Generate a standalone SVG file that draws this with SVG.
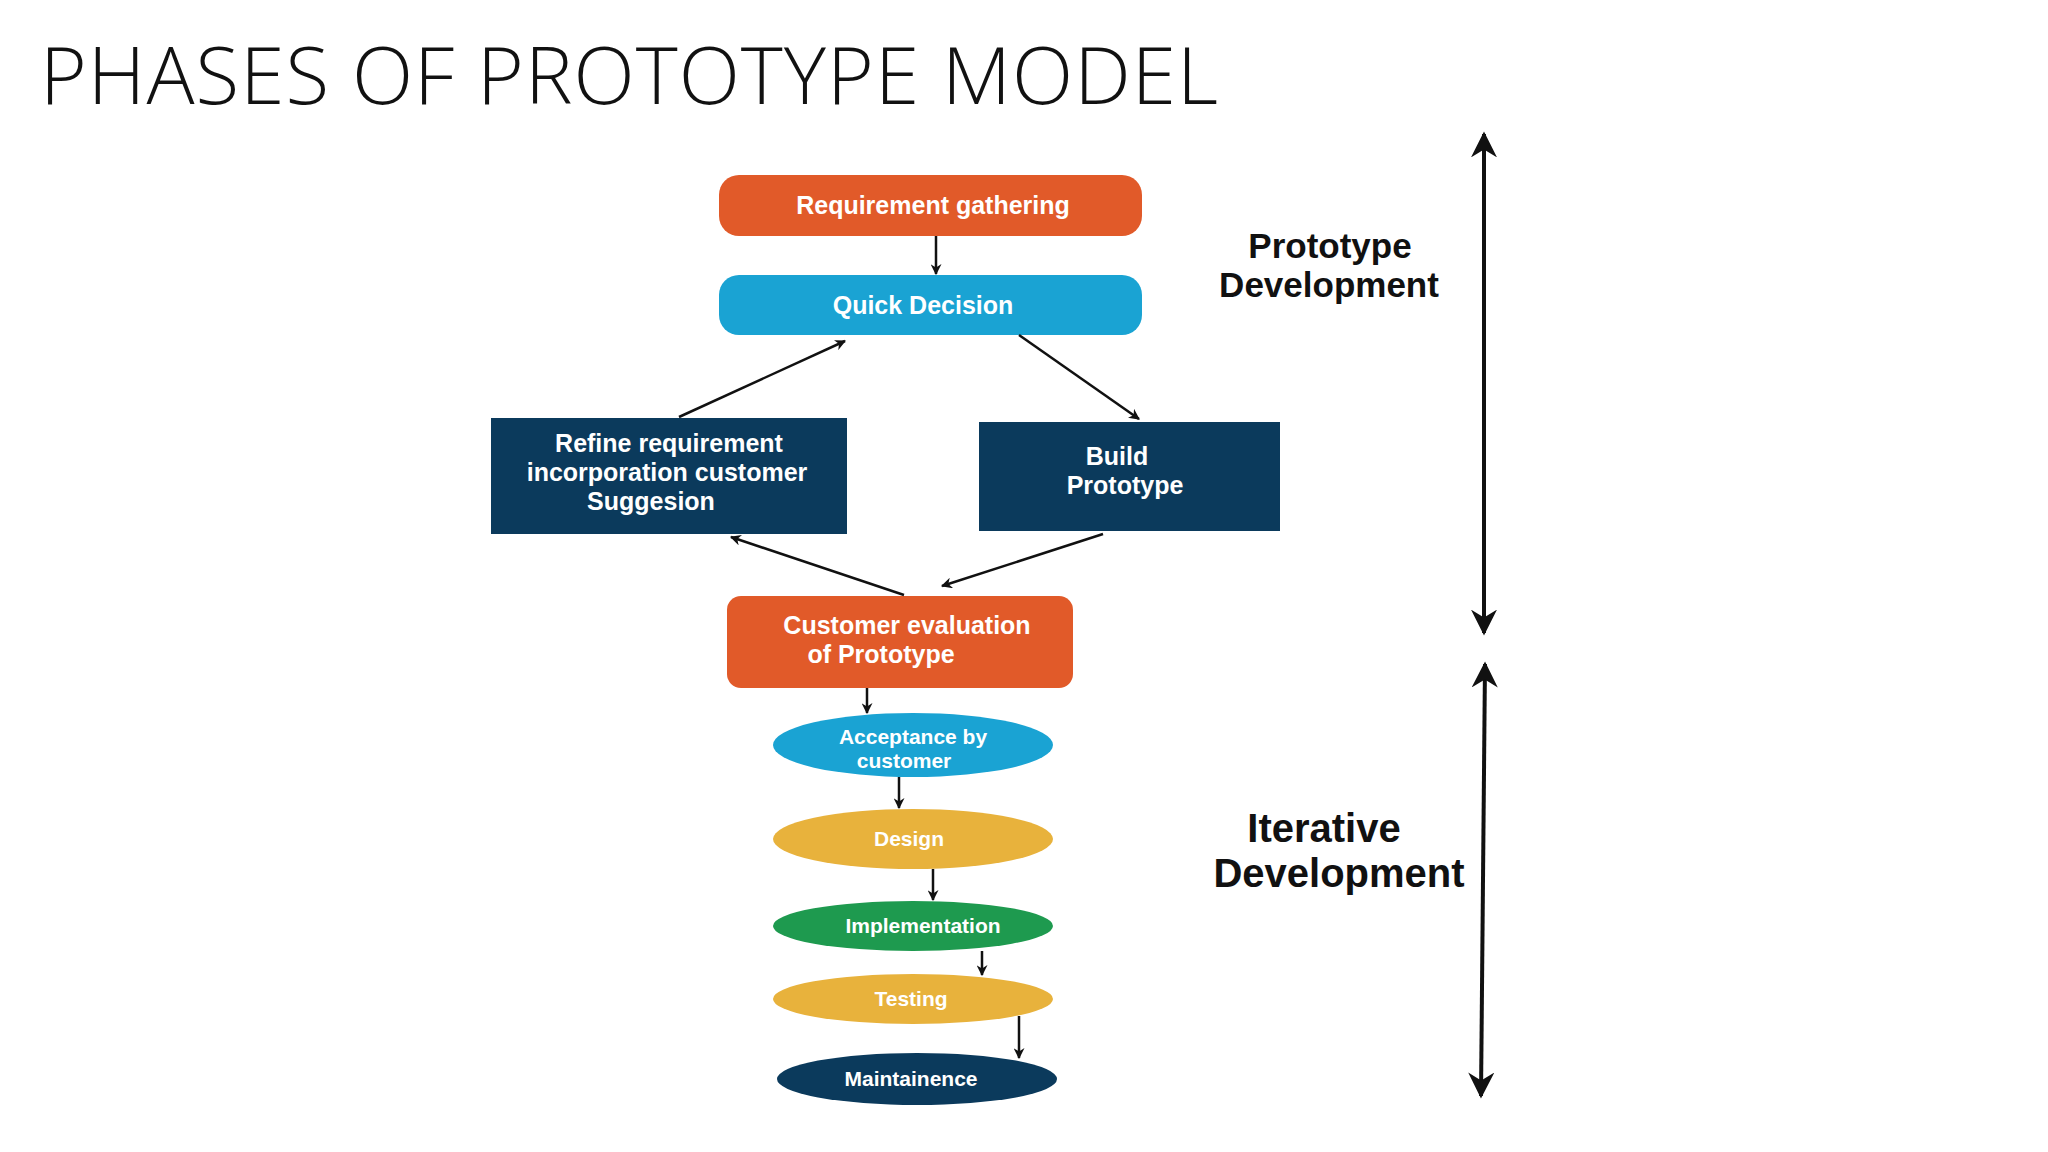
<svg xmlns="http://www.w3.org/2000/svg" width="2048" height="1152" viewBox="0 0 2048 1152">
<defs>
<marker id="ah" viewBox="0 0 10 10" refX="9" refY="5" markerWidth="11" markerHeight="11" orient="auto-start-reverse" markerUnits="userSpaceOnUse"><path d="M0,0 L10,5 L0,10 L3,5 z" fill="#111"/></marker>
<marker id="big" viewBox="0 0 10 10" refX="9" refY="5" markerWidth="26" markerHeight="26" orient="auto-start-reverse" markerUnits="userSpaceOnUse"><path d="M0,0 L10,5 L0,10 L3,5 z" fill="#111"/></marker>
<style>
.t{font-family:"Liberation Sans",Arial,sans-serif;font-weight:bold;fill:#fff;text-anchor:middle;font-size:25px}
.s{font-size:21px}
.lab{font-family:"Liberation Sans",Arial,sans-serif;font-weight:bold;fill:#111;text-anchor:middle}
.c{stroke:#111;stroke-width:2.5;fill:none;marker-end:url(#ah)}
.b{stroke:#111;stroke-width:4;fill:none;marker-end:url(#big);marker-start:url(#big)}
</style>
</defs>
<rect width="2048" height="1152" fill="#fff"/>
<text x="40" y="104" font-family="'Open Sans',sans-serif" font-weight="300" font-size="80" textLength="1178" fill="#111">PHASES OF PROTOTYPE MODEL</text>
<g transform="translate(-9,-3)">
<g id="n1"><rect x="728" y="178" width="423" height="61" rx="20" fill="#E15A29"/><text class="t" x="942" y="217">Requirement gathering</text></g>
<g id="n2"><rect x="728" y="278" width="423" height="60" rx="20" fill="#1AA3D3"/><text class="t" x="932" y="317">Quick Decision</text></g>
<g id="n3"><rect x="500" y="421" width="356" height="116" fill="#0B3A5C"/><text class="t" x="678" y="455">Refine requirement</text><text class="t" x="676" y="484">incorporation customer</text><text class="t" x="660" y="513">Suggesion</text></g>
<g id="n4"><rect x="988" y="425" width="301" height="109" fill="#0B3A5C"/><text class="t" x="1126" y="468">Build</text><text class="t" x="1134" y="497">Prototype</text></g>
<g id="n5"><rect x="736" y="599" width="346" height="92" rx="14" fill="#E15A29"/><text class="t" x="916" y="637">Customer evaluation</text><text class="t" x="890" y="666">of Prototype</text></g>
<g id="n6"><ellipse cx="922" cy="748" rx="140" ry="32" fill="#1AA3D3"/><text class="t s" x="922" y="747">Acceptance by</text><text class="t s" x="913" y="771">customer</text></g>
<g id="n7"><ellipse cx="922" cy="842" rx="140" ry="30" fill="#E8B23C"/><text class="t s" x="918" y="849">Design</text></g>
<g id="n8"><ellipse cx="922" cy="929" rx="140" ry="25" fill="#1E9A4F"/><text class="t s" x="932" y="936">Implementation</text></g>
<g id="n9"><ellipse cx="922" cy="1002" rx="140" ry="25" fill="#E8B23C"/><text class="t s" x="920" y="1009">Testing</text></g>
<g id="n10"><ellipse cx="926" cy="1082" rx="140" ry="26" fill="#0B3A5C"/><text class="t s" x="920" y="1089">Maintainence</text></g>
<g id="connectors">
<line class="c" x1="945" y1="239" x2="945" y2="277"/>
<line class="c" x1="688" y1="420" x2="854" y2="344"/>
<line class="c" x1="1028" y1="338" x2="1148" y2="422"/>
<line class="c" x1="913" y1="598" x2="740" y2="540"/>
<line class="c" x1="1112" y1="537" x2="951" y2="589"/>
<line class="c" x1="876" y1="691" x2="876" y2="716"/>
<line class="c" x1="908" y1="780" x2="908" y2="811"/>
<line class="c" x1="942" y1="872" x2="942" y2="903"/>
<line class="c" x1="991" y1="954" x2="991" y2="978"/>
<line class="c" x1="1028" y1="1019" x2="1028" y2="1061"/>
</g>
</g>
<g id="labels">
<text class="lab" x="1330" y="258" font-size="35">Prototype</text>
<text class="lab" x="1329" y="297" font-size="35">Development</text>
<text class="lab" x="1324" y="842" font-size="40">Iterative</text>
<text class="lab" x="1339" y="887" font-size="40">Development</text>
</g>
<g id="arrows">
<line class="b" x1="1498" y1="134" x2="1498" y2="633" transform="translate(-14,0)"/>
<line class="b" x1="1499" y1="664" x2="1495" y2="1096" transform="translate(-14,0)"/>
</g>
</svg>
